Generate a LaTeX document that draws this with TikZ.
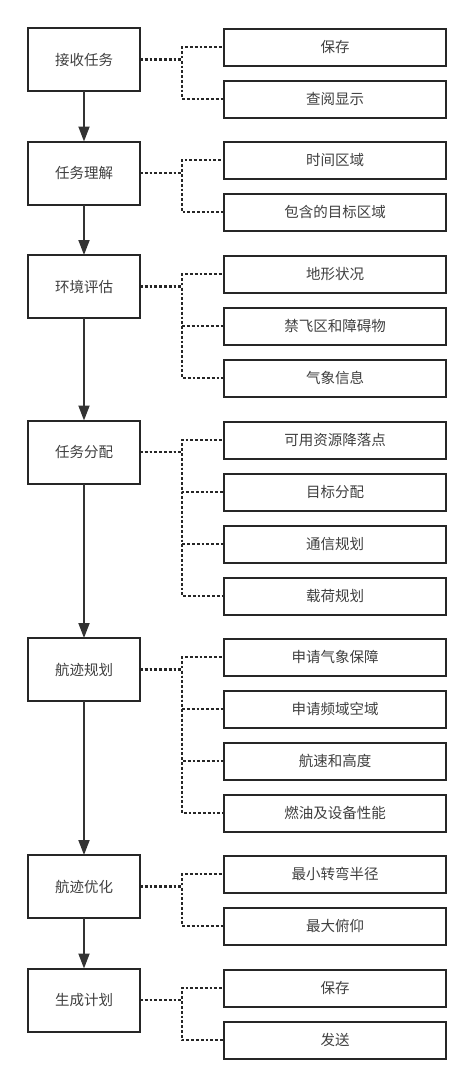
\documentclass[tikz,border=0pt]{standalone}
\usepackage{fontspec}
\setmainfont{Noto Sans CJK SC}
\usetikzlibrary{arrows.meta}

\tikzset{
    mainbox/.style={draw=black!85, line width=2pt, fill=white, minimum width=112pt, minimum height=63pt, text=black!75},
    subbox/.style={draw=black!85, line width=2pt, fill=white, minimum width=222pt, minimum height=37pt, text=black!75},
    flow/.style={-{Triangle[length=15pt, width=11pt]}, line width=1.8pt, draw=black!80},
    link/.style={line width=2.8pt, draw=black!85, dash pattern=on 2.8pt off 2pt}
}

\begin{document}
\begin{tikzpicture}[x=1pt, y=-1pt, font=\fontsize{14.5}{16}\selectfont, inner sep=0pt, outer sep=0pt]
    \useasboundingbox (0, 0) rectangle (474, 1087);

    % main steps
    \node[mainbox] (recv) at (84, 59.5) {接收任务};
    \node[mainbox] (understand) at (84, 173) {任务理解};
    \node[mainbox] (env) at (84, 286.5) {环境评估};
    \node[mainbox] (assign) at (84, 452) {任务分配};
    \node[mainbox] (route) at (84, 669.5) {航迹规划};
    \node[mainbox] (optim) at (84, 886.5) {航迹优化};
    \node[mainbox] (plan) at (84, 1000) {生成计划};

    % details
    \node[subbox] (save1) at (335, 47) {保存};
    \node[subbox] (view) at (335, 99) {查阅显示};

    \node[subbox] (time) at (335, 160) {时间区域};
    \node[subbox] (area) at (335, 212) {包含的目标区域};

    \node[subbox] (terrain) at (335, 274) {地形状况};
    \node[subbox] (nofly) at (335, 326) {禁飞区和障碍物};
    \node[subbox] (weather) at (335, 378) {气象信息};

    \node[subbox] (landing) at (335, 440) {可用资源降落点};
    \node[subbox] (target) at (335, 492) {目标分配};
    \node[subbox] (comm) at (335, 544) {通信规划};
    \node[subbox] (payload) at (335, 596) {载荷规划};

    \node[subbox] (wxsup) at (335, 657) {申请气象保障};
    \node[subbox] (freq) at (335, 709) {申请频域空域};
    \node[subbox] (speed) at (335, 761) {航速和高度};
    \node[subbox] (fuel) at (335, 813) {燃油及设备性能};

    \node[subbox] (radius) at (335, 874) {最小转弯半径};
    \node[subbox] (pitch) at (335, 926) {最大俯仰};

    \node[subbox] (save2) at (335, 988) {保存};
    \node[subbox] (send) at (335, 1040) {发送};

    % flow
    \draw[flow] (recv) -- (understand);
    \draw[flow] (understand) -- (env);
    \draw[flow] (env) -- (assign);
    \draw[flow] (assign) -- (route);
    \draw[flow] (route) -- (optim);
    \draw[flow] (optim) -- (plan);

    % dotted links
    \draw[link] (recv.east) -- ++(42, 0) |- (save1.west);
    \draw[link] (recv.east) -- ++(42, 0) |- (view.west);

    \draw[link] (understand.east) -- ++(42, 0) |- (time.west);
    \draw[link] (understand.east) -- ++(42, 0) |- (area.west);

    \draw[link] (env.east) -- ++(42, 0) |- (terrain.west);
    \draw[link] (env.east) -- ++(42, 0) |- (nofly.west);
    \draw[link] (env.east) -- ++(42, 0) |- (weather.west);

    \draw[link] (assign.east) -- ++(42, 0) |- (landing.west);
    \draw[link] (assign.east) -- ++(42, 0) |- (target.west);
    \draw[link] (assign.east) -- ++(42, 0) |- (comm.west);
    \draw[link] (assign.east) -- ++(42, 0) |- (payload.west);

    \draw[link] (route.east) -- ++(42, 0) |- (wxsup.west);
    \draw[link] (route.east) -- ++(42, 0) |- (freq.west);
    \draw[link] (route.east) -- ++(42, 0) |- (speed.west);
    \draw[link] (route.east) -- ++(42, 0) |- (fuel.west);

    \draw[link] (optim.east) -- ++(42, 0) |- (radius.west);
    \draw[link] (optim.east) -- ++(42, 0) |- (pitch.west);

    \draw[link] (plan.east) -- ++(42, 0) |- (save2.west);
    \draw[link] (plan.east) -- ++(42, 0) |- (send.west);
\end{tikzpicture}
\end{document}
